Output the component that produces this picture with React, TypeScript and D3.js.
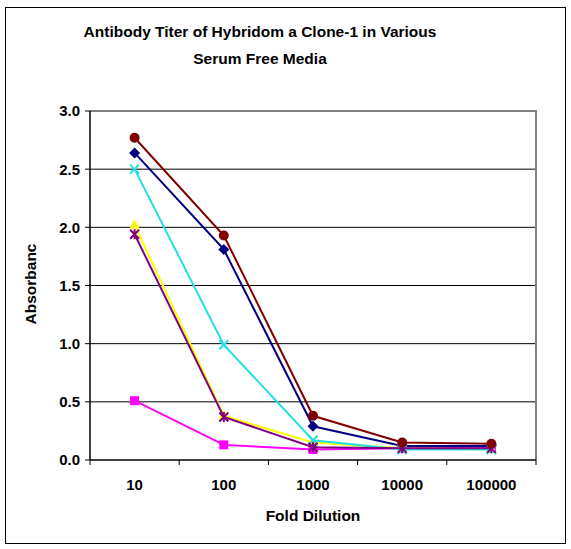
import React from "react";
import * as d3 from "d3";

const categories = ["10", "100", "1000", "10000", "100000"];
const yTicks = [0, 0.5, 1.0, 1.5, 2.0, 2.5, 3.0];

const navyValues = [2.64, 1.81, 0.29, 0.12, 0.12];
const magentaValues = [0.51, 0.13, 0.09, 0.1, 0.1];
const yellowValues = [2.02, 0.38, 0.15, 0.1, 0.09];
const cyanValues = [2.5, 0.99, 0.17, 0.09, 0.09];
const purpleValues = [1.94, 0.37, 0.11, 0.1, 0.1];
const darkRedValues = [2.77, 1.93, 0.38, 0.15, 0.14];

const series = [
  { name: "S1", values: navyValues, color: "#000080", marker: "diamond" },
  { name: "S2", values: magentaValues, color: "#FF00FF", marker: "square" },
  { name: "S3", values: yellowValues, color: "#FFFF00", marker: "triangle" },
  { name: "S4", values: cyanValues, color: "#22E0E0", marker: "x" },
  { name: "S5", values: purpleValues, color: "#800080", marker: "star" },
  { name: "S6", values: darkRedValues, color: "#800000", marker: "circle" },
];

const W = 571;
const H = 549;
const left = 90;
const right = 536;
const top = 111;
const bottom = 460;

const font = "Arial, 'Liberation Sans', sans-serif";

function Marker({ type, x, y, color }: { type: string; x: number; y: number; color: string }) {
  if (type === "circle") return <circle cx={x} cy={y} r={5} fill={color} />;
  if (type === "square") return <rect x={x - 4.5} y={y - 4.5} width={9} height={9} fill={color} />;
  if (type === "diamond")
    return <path d={`M${x},${y - 5.5}L${x + 5.5},${y}L${x},${y + 5.5}L${x - 5.5},${y}Z`} fill={color} />;
  if (type === "triangle")
    return <path d={`M${x},${y - 6}L${x + 5},${y + 3.5}L${x - 5},${y + 3.5}Z`} fill={color} />;
  if (type === "x")
    return (
      <path d={`M${x - 4.5},${y - 4.5}L${x + 4.5},${y + 4.5}M${x + 4.5},${y - 4.5}L${x - 4.5},${y + 4.5}`} stroke={color} strokeWidth={2} />
    );
  return (
    <path
      d={`M${x - 4.5},${y - 4.5}L${x + 4.5},${y + 4.5}M${x + 4.5},${y - 4.5}L${x - 4.5},${y + 4.5}M${x},${y - 5}L${x},${y + 5}`}
      stroke={color}
      strokeWidth={2}
    />
  );
}

export default function App() {
  const x = d3.scaleBand<string>().domain(categories).range([left, right]).padding(0);
  const y = d3.scaleLinear().domain([0, 3]).range([bottom, top]);
  const cx = (c: string) => (x(c) as number) + x.bandwidth() / 2;
  const line = d3
    .line<number>()
    .x((_, i) => cx(categories[i]))
    .y((v) => y(v));
  const boundaries = [...categories.map((c) => x(c) as number), right];

  return (
    <div style={{ position: "absolute", left: 0, top: 0 }}>
      <svg width={W} height={H} style={{ display: "block" }}>
        <rect x={0} y={0} width={W} height={H} fill="#fff" />
        <rect x={5.5} y={7.5} width={560} height={536} fill="#fff" stroke="#000" strokeWidth={1} />
        {yTicks.slice(1, -1).map((t) => (
          <line key={t} x1={left} x2={right} y1={y(t)} y2={y(t)} stroke="#000" strokeWidth={1} />
        ))}
        <path d={`M${left},${top}H${right}V${bottom}`} fill="none" stroke="#808080" strokeWidth={2} />
        <line x1={left} x2={left} y1={top} y2={bottom} stroke="#000" strokeWidth={1.5} />
        <line x1={left} x2={right} y1={bottom} y2={bottom} stroke="#000" strokeWidth={1.5} />
        {yTicks.map((t) => (
          <g key={"yt" + t}>
            <line x1={left - 5} x2={left} y1={y(t)} y2={y(t)} stroke="#000" strokeWidth={1} />
            <text x={80} y={y(t)} dy="0.36em" textAnchor="end" fontFamily={font} fontWeight="bold" fontSize={15}>
              {t.toFixed(1)}
            </text>
          </g>
        ))}
        {boundaries.map((b, i) => (
          <line key={"xt" + i} x1={b} x2={b} y1={bottom} y2={bottom + 5} stroke="#000" strokeWidth={1} />
        ))}
        {categories.map((c) => (
          <text key={c} x={cx(c)} y={490} textAnchor="middle" fontFamily={font} fontWeight="bold" fontSize={15}>
            {c}
          </text>
        ))}
        {series.map((s) => (
          <g key={s.name}>
            <path d={line(s.values) as string} fill="none" stroke={s.color} strokeWidth={2} />
            {s.values.map((v, i) => (
              <Marker key={i} type={s.marker} x={cx(categories[i])} y={y(v)} color={s.color} />
            ))}
          </g>
        ))}
        <text x={260} y={37} textAnchor="middle" fontFamily={font} fontWeight="bold" fontSize={15.5}>
          Antibody Titer of Hybridom a Clone-1 in Various
        </text>
        <text x={260} y={64} textAnchor="middle" fontFamily={font} fontWeight="bold" fontSize={15.5}>
          Serum Free Media
        </text>
        <text x={313} y={521} textAnchor="middle" fontFamily={font} fontWeight="bold" fontSize={15.5}>
          Fold Dilution
        </text>
        <text
          transform={`translate(36,284) rotate(-90)`}
          textAnchor="middle"
          fontFamily={font}
          fontWeight="bold"
          fontSize={15.5}
        >
          Absorbanc
        </text>
      </svg>
    </div>
  );
}
